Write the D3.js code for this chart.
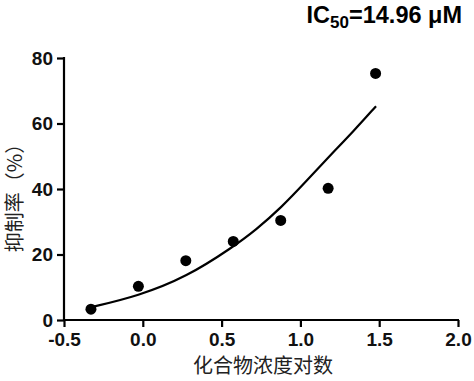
<!DOCTYPE html>
<html><head><meta charset="utf-8">
<script src="https://cdn.jsdelivr.net/npm/d3@7"></script>
<style>body{margin:0;background:#fff}</style>
</head><body>
<svg id="c" width="474" height="381"></svg>
<script>
const logConc = [-0.329, -0.028, 0.273, 0.574, 0.875, 1.176, 1.477];
const inhibition = [3.3, 10.3, 18.1, 24.0, 30.4, 40.2, 75.3];
const fitX = [-0.33, -0.03, 0.28, 0.57, 0.72, 0.88, 1.03, 1.18, 1.34, 1.48];
const fitY = [3.9, 7.3, 13.2, 22.2, 27.6, 34.4, 42.0, 49.8, 57.8, 65.3];
const xTicks = [-0.5, 0.0, 0.5, 1.0, 1.5, 2.0];
const yTicks = [0, 20, 40, 60, 80];

const svg = d3.select("#c");
const x = d3.scaleLinear().domain([-0.5, 2.0]).range([64, 458]);
const y = d3.scaleLinear().domain([0, 80]).range([320, 58]);

const xAxis = svg.append("g").attr("transform","translate(0,320)")
  .call(d3.axisBottom(x).tickValues(xTicks).tickFormat(d => d.toFixed(1)).tickSizeOuter(0).tickSize(7).tickPadding(6));
const yAxis = svg.append("g").attr("transform","translate(64,0)")
  .call(d3.axisLeft(y).tickValues(yTicks).tickFormat(d => String(d)).tickSizeOuter(0).tickSize(7).tickPadding(4));
[xAxis,yAxis].forEach(g=>{
  g.select(".domain").attr("stroke","#000").attr("stroke-width",2.2);
  g.selectAll(".tick line").attr("stroke","#000").attr("stroke-width",2.2);
  g.selectAll(".tick text").attr("fill","#111").style("font-family","'Liberation Sans',Arial,sans-serif")
   .style("font-weight","bold").style("font-size","19px");
});
xAxis.select(".domain").attr("d","M64,0H459");
yAxis.select(".domain").attr("d","M0,321V57");

const line = d3.line().x((d,i)=>x(fitX[i])).y((d,i)=>y(fitY[i])).curve(d3.curveBasis);
svg.append("path").datum(fitY).attr("d",line).attr("fill","none").attr("stroke","#000").attr("stroke-width",2.2);

svg.selectAll("circle.pt").data(inhibition).enter().append("circle").attr("class","pt")
  .attr("cx",(d,i)=>x(logConc[i])).attr("cy",d=>y(d)).attr("r",5.5).attr("fill","#000");

svg.append("text").attr("x",263).attr("y",373).attr("text-anchor","middle")
  .style("font-family","'Noto Sans CJK SC',sans-serif").style("font-size","20px").attr("fill","#222")
  .text("化合物浓度对数");
svg.append("text").attr("transform","translate(22,193) rotate(-90)").attr("text-anchor","middle")
  .style("font-family","'Noto Sans CJK SC',sans-serif").style("font-size","20px").attr("fill","#222")
  .text("抑制率（%）");

const t = svg.append("text").attr("x",462).attr("y",23).attr("text-anchor","end")
  .style("font-family","'Liberation Sans',Arial,sans-serif").style("font-weight","bold").style("font-size","23.5px").attr("fill","#000");
t.append("tspan").text("IC");
t.append("tspan").attr("dy",5).style("font-size","17px").text("50");
t.append("tspan").attr("dy",-5).text("=14.96 μM");
</script>
</body></html>
